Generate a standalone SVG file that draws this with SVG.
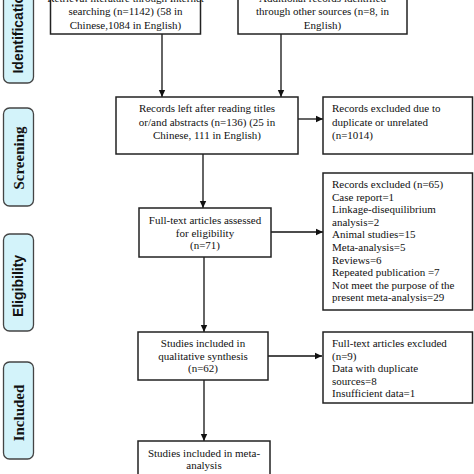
<svg xmlns="http://www.w3.org/2000/svg" width="474" height="474" viewBox="0 0 474 474">
<style>
.box{fill:#fff;stroke:#222;stroke-width:1.5}
.lab{fill:#d3f3fa;stroke:#444;stroke-width:1.3}
.t{font-family:"Liberation Serif","Times New Roman",serif;font-size:11px;fill:#111}
.c{text-anchor:middle}
.ls{font-family:"Liberation Serif","Times New Roman",serif;font-size:15px;font-weight:bold;fill:#111;text-anchor:middle}
.la{font-family:"Liberation Sans",Arial,sans-serif;font-size:14px;font-weight:bold;fill:#111;text-anchor:middle}
.ln{stroke:#111;stroke-width:1.3;fill:none;marker-end:url(#ah)}
</style>
<defs>
<marker id="ah" markerWidth="8" markerHeight="8" refX="7" refY="4" orient="auto" markerUnits="userSpaceOnUse">
<path d="M0,0.8 L7,4 L0,7.2 Z" fill="#111"/>
</marker>
</defs>
<rect width="474" height="474" fill="#fff"/>

<g id="stage-identification">
<rect class="lab" x="3.5" y="-14" width="30" height="97" rx="6"/>
<text class="la" transform="translate(23,30) rotate(-90)">Identification</text>
</g>
<g id="stage-screening">
<rect class="lab" x="3.5" y="108" width="30" height="98" rx="6"/>
<text class="ls" transform="translate(23.5,158) rotate(-90)">Screening</text>
</g>
<g id="stage-eligibility">
<rect class="lab" x="3.5" y="234" width="30" height="97" rx="6"/>
<text class="la" transform="translate(23,286) rotate(-90)">Eligibility</text>
</g>
<g id="stage-included">
<rect class="lab" x="3.5" y="362" width="30" height="97" rx="6"/>
<text class="ls" transform="translate(23.5,413) rotate(-90)">Included</text>
</g>

<g id="connectors">
<line class="ln" x1="162" y1="34" x2="162" y2="97"/>
<line class="ln" x1="281" y1="34" x2="281" y2="97"/>
<line class="ln" x1="298" y1="119" x2="323" y2="119"/>
<line class="ln" x1="203" y1="154" x2="203" y2="208"/>
<line class="ln" x1="271" y1="232" x2="323" y2="232"/>
<line class="ln" x1="204" y1="257" x2="204" y2="332"/>
<line class="ln" x1="268" y1="356" x2="322" y2="356"/>
<line class="ln" x1="204" y1="380" x2="204" y2="441"/>
</g>

<g id="n-database">
<rect class="box" x="50.5" y="-20" width="150" height="54"/>
<text class="t c" x="125.5" y="1.5">Retrieval literature through Internet</text>
<text class="t c" x="125.5" y="15">searching (n=1142) (58 in</text>
<text class="t c" x="125.5" y="29">Chinese,1084 in English)</text>
</g>
<g id="n-other">
<rect class="box" x="238" y="-20" width="169" height="54"/>
<text class="t c" x="322.5" y="1.5">Additional records identified</text>
<text class="t c" x="322.5" y="15">through other sources (n=8, in</text>
<text class="t c" x="322.5" y="29">English)</text>
</g>
<g id="n-records-left">
<rect class="box" x="116" y="97" width="182" height="57"/>
<text class="t c" x="207" y="112">Records left after reading titles</text>
<text class="t c" x="207" y="126">or/and abstracts (n=136) (25 in</text>
<text class="t c" x="207" y="139">Chinese, 111 in English)</text>
</g>
<g id="n-excluded-dup">
<rect class="box" x="323" y="97" width="149.5" height="57"/>
<text class="t" x="332" y="112">Records excluded due to</text>
<text class="t" x="332" y="126">duplicate or unrelated</text>
<text class="t" x="332" y="139">(n=1014)</text>
</g>
<g id="n-fulltext">
<rect class="box" x="139" y="208" width="132" height="49"/>
<text class="t c" x="205" y="224">Full-text articles assessed</text>
<text class="t c" x="205" y="237">for eligibility</text>
<text class="t c" x="205" y="249">(n=71)</text>
</g>
<g id="n-excluded-65">
<rect class="box" x="323" y="173" width="149.5" height="137"/>
<text class="t" x="332" y="188">Records excluded (n=65)</text>
<text class="t" x="332" y="200.6">Case report=1</text>
<text class="t" x="332" y="213.2">Linkage-disequilibrium</text>
<text class="t" x="332" y="225.8">analysis=2</text>
<text class="t" x="332" y="238.4">Animal studies=15</text>
<text class="t" x="332" y="251">Meta-analysis=5</text>
<text class="t" x="332" y="263.6">Reviews=6</text>
<text class="t" x="332" y="276.2">Repeated publication =7</text>
<text class="t" x="332" y="288.8">Not meet the purpose of the</text>
<text class="t" x="332" y="301.4">present meta-analysis=29</text>
</g>
<g id="n-qualitative">
<rect class="box" x="138" y="332" width="130" height="48"/>
<text class="t c" x="203" y="347">Studies included in</text>
<text class="t c" x="203" y="360">qualitative synthesis</text>
<text class="t c" x="203" y="372">(n=62)</text>
</g>
<g id="n-excluded-9">
<rect class="box" x="323" y="332" width="149.5" height="71"/>
<text class="t" x="332" y="347">Full-text articles excluded</text>
<text class="t" x="332" y="359.6">(n=9)</text>
<text class="t" x="332" y="372.2">Data with duplicate</text>
<text class="t" x="332" y="384.8">sources=8</text>
<text class="t" x="332" y="397.4">Insufficient data=1</text>
</g>
<g id="n-meta">
<rect class="box" x="138" y="441" width="132" height="45"/>
<text class="t c" x="204" y="457">Studies included in meta-</text>
<text class="t c" x="204" y="469">analysis</text>
</g>
</svg>
